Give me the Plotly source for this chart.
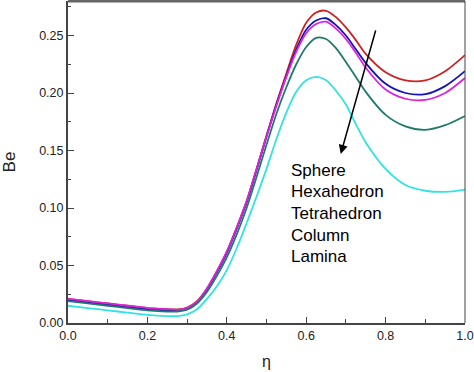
import plotly.graph_objects as go

eta = [0.0, 0.05, 0.1, 0.15, 0.2, 0.25, 0.275, 0.3, 0.325, 0.35, 0.375, 0.4, 0.425, 0.45,
       0.475, 0.5, 0.525, 0.55, 0.575, 0.6, 0.625, 0.65, 0.675, 0.7, 0.725, 0.75,
       0.8, 0.85, 0.9, 0.95, 1.0]

be_red = [0.021, 0.019, 0.017, 0.015, 0.013, 0.012, 0.0118, 0.0135, 0.019, 0.030, 0.045, 0.062,
          0.083, 0.106, 0.134, 0.163, 0.191, 0.217, 0.242, 0.261, 0.270, 0.2715, 0.266, 0.257,
          0.246, 0.234, 0.218, 0.211, 0.211, 0.219, 0.233]
be_blue = [0.020, 0.018, 0.016, 0.014, 0.012, 0.011, 0.0108, 0.0125, 0.018, 0.029, 0.044, 0.061,
           0.082, 0.105, 0.133, 0.162, 0.190, 0.215, 0.238, 0.255, 0.263, 0.265, 0.259, 0.250,
           0.238, 0.226, 0.208, 0.200, 0.199, 0.206, 0.219]
be_magenta = [0.021, 0.019, 0.017, 0.015, 0.013, 0.012, 0.0115, 0.013, 0.0185, 0.030, 0.045, 0.062,
              0.083, 0.106, 0.134, 0.162, 0.189, 0.214, 0.236, 0.252, 0.260, 0.262, 0.256, 0.247,
              0.235, 0.222, 0.203, 0.195, 0.194, 0.200, 0.213]
be_teal = [0.019, 0.017, 0.015, 0.013, 0.011, 0.010, 0.010, 0.0115, 0.017, 0.027, 0.041, 0.057,
           0.077, 0.100, 0.127, 0.155, 0.182, 0.205, 0.225, 0.240, 0.248, 0.247, 0.239, 0.227,
           0.214, 0.201, 0.181, 0.171, 0.168, 0.172, 0.180]
be_cyan = [0.015, 0.013, 0.011, 0.009, 0.007, 0.006, 0.006, 0.0075, 0.012, 0.021, 0.032, 0.046,
           0.065, 0.087, 0.110, 0.134, 0.160, 0.183, 0.201, 0.211, 0.214, 0.211, 0.202, 0.190,
           0.173, 0.157, 0.134, 0.120, 0.115, 0.114, 0.116]

series = [
    ("Sphere", be_red, "#cc2222"),
    ("Hexahedron", be_blue, "#1414b4"),
    ("Tetrahedron", be_magenta, "#dd22dd"),
    ("Column", be_teal, "#1f7a6c"),
    ("Lamina", be_cyan, "#33e2e2"),
]

labels = ["Sphere", "Hexahedron", "Tetrahedron", "Column", "Lamina"]
label_y = [0.133, 0.114, 0.095, 0.076, 0.058]

fig = go.Figure()
for name, ys, col in series:
    fig.add_trace(go.Scatter(x=eta, y=ys, mode="lines", name=name,
                             line=dict(color=col, width=1.8, shape="spline", smoothing=0.8)))

for lab, yy in zip(labels, label_y):
    fig.add_annotation(x=0.556, y=yy, xref="x", yref="y", text=lab, showarrow=False,
                       xanchor="left", yanchor="middle",
                       font=dict(family="Liberation Sans, Arial", size=17, color="black"))

# arrow
fig.add_annotation(x=0.687, y=0.147, ax=0.776, ay=0.2556, xref="x", yref="y",
                   axref="x", ayref="y", text="", showarrow=True,
                   arrowhead=2, arrowsize=1.2, arrowwidth=1.5, arrowcolor="black")

axis_font = dict(family="Liberation Sans, Arial", size=12.5, color="#222")
fig.update_layout(
    width=474, height=372,
    margin=dict(l=68, r=9, t=1, b=49),
    plot_bgcolor="white", paper_bgcolor="white",
    showlegend=False,
    xaxis=dict(range=[0, 1.0], tickmode="linear", tick0=0, dtick=0.2, tickformat=".1f",
               ticks="inside", ticklen=6, tickwidth=1.2, tickcolor="#444",
               minor=dict(ticks="inside", ticklen=4, tickwidth=1, tickcolor="#444", dtick=0.1),
               showline=True, linecolor="#444", linewidth=2, showgrid=False, zeroline=False,
               tickfont=axis_font, automargin=False,
               title=dict(text="η", font=dict(family="Liberation Sans, Arial", size=16, color="#222"),
                          standoff=14)),
    yaxis=dict(range=[0, 0.28], tickmode="linear", tick0=0, dtick=0.05, tickformat=".2f",
               ticks="inside", ticklen=6, tickwidth=1.2, tickcolor="#444",
               minor=dict(ticks="inside", ticklen=3, tickwidth=1, tickcolor="#444", dtick=0.025),
               showline=True, linecolor="#444", linewidth=2, showgrid=False, zeroline=False,
               tickfont=axis_font, automargin=False,
               title=dict(text="Be", font=dict(family="Liberation Sans, Arial", size=17, color="#222"),
                          standoff=20)),
)

# frame: top (thick grey) and right (thin)
fig.add_shape(type="line", xref="paper", yref="paper", x0=0, x1=1, y0=1, y1=1,
              line=dict(color="#666", width=3))
fig.add_shape(type="line", xref="paper", yref="paper", x0=1, x1=1, y0=0, y1=1,
              line=dict(color="#444", width=1))

fig.write_html("out.html", config={"displayModeBar": False},
               post_script="document.body.style.margin='0';document.body.style.overflow='hidden';")
